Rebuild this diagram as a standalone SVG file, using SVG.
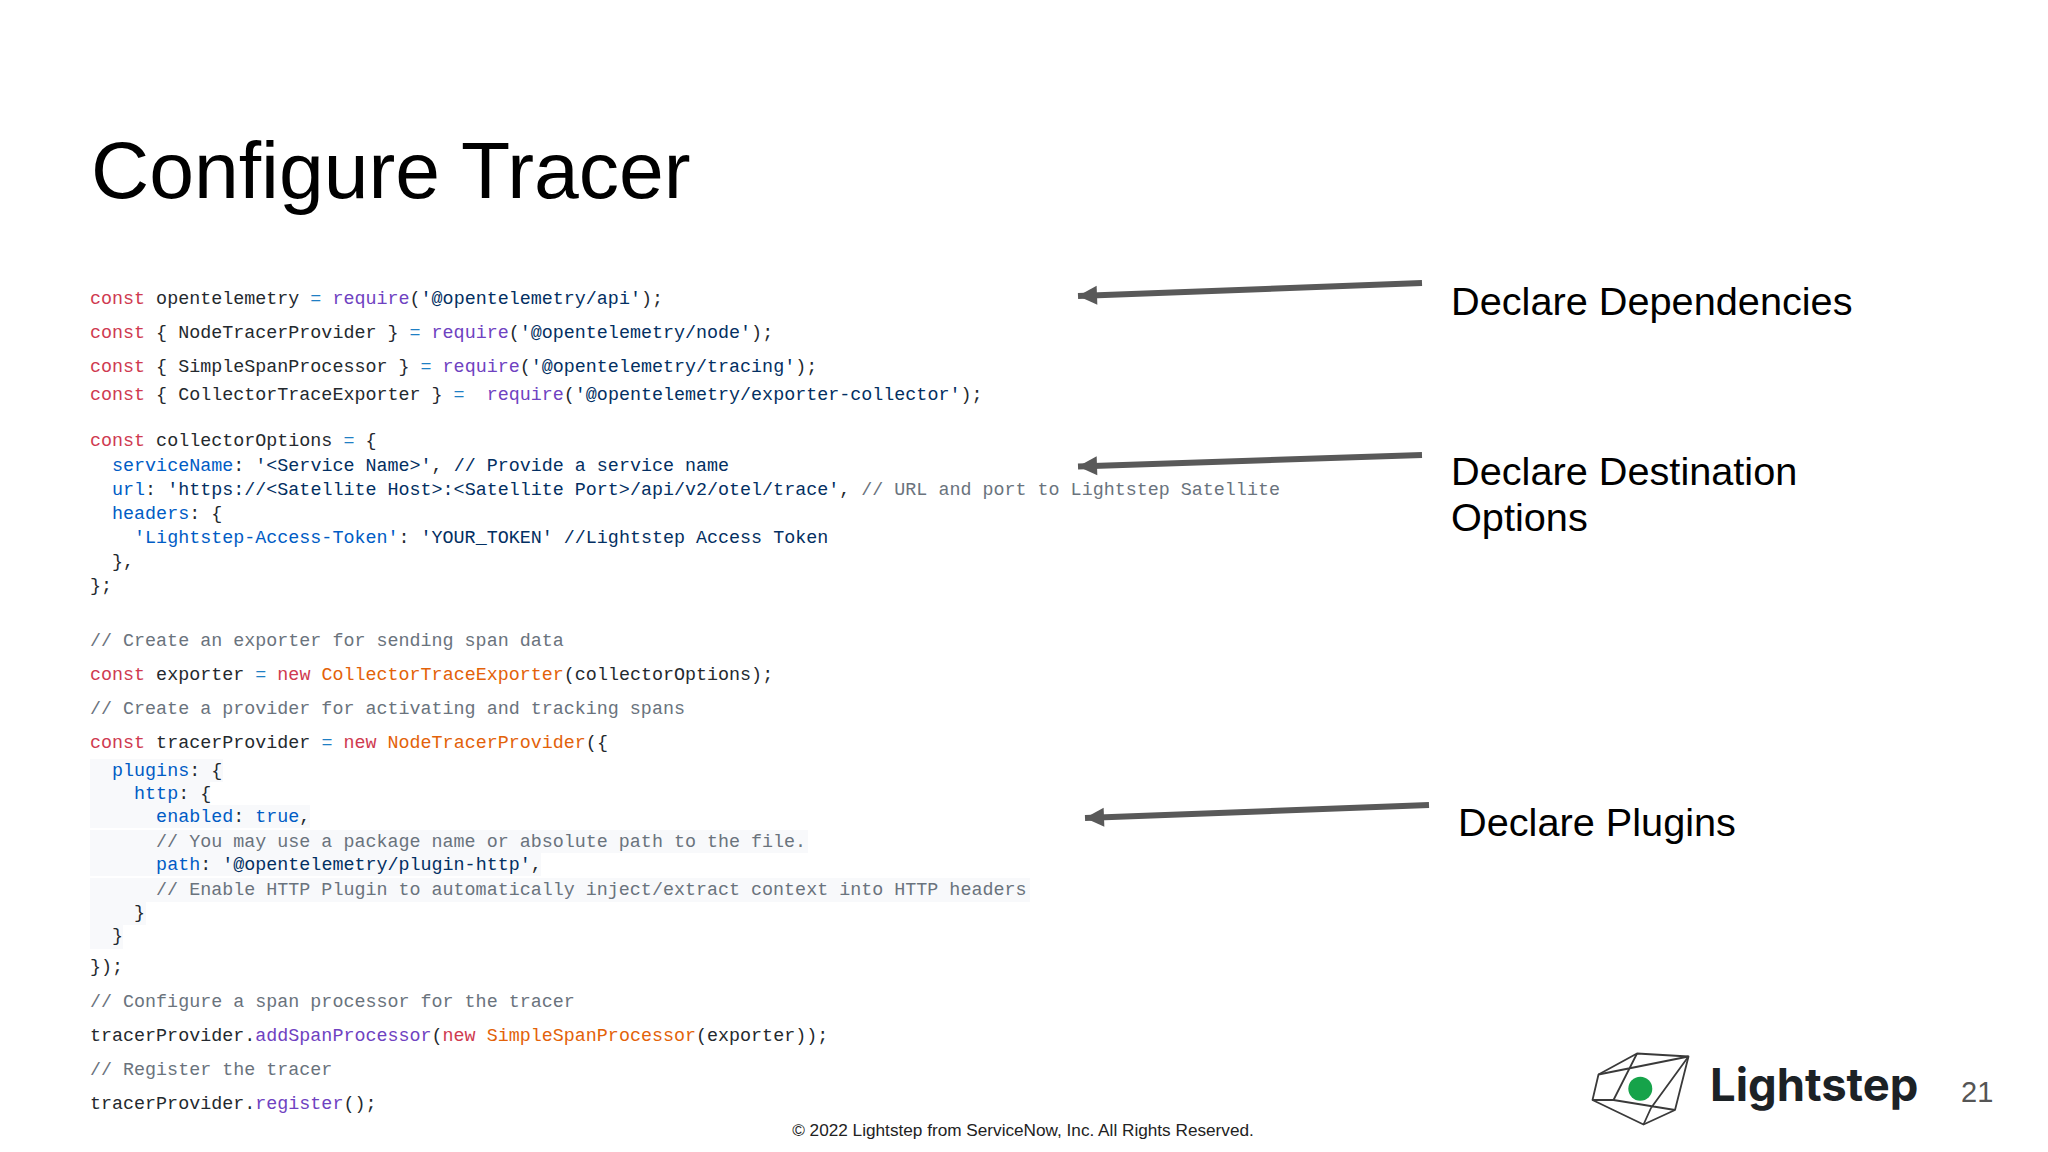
<svg xmlns="http://www.w3.org/2000/svg" width="2048" height="1152" viewBox="0 0 2048 1152">
<defs>
<marker id="ah" markerUnits="userSpaceOnUse" markerWidth="22" markerHeight="22" refX="20" refY="11" orient="auto"><path d="M20 11L1 1.500V20.500Z" fill="#595959"/></marker>
<style>
.c{font-family:"Liberation Mono","DejaVu Sans Mono",monospace;font-size:18.37px;fill:#24292e;white-space:pre}
.k{fill:#cf3a50}.o{fill:#1f7fc4}.f{fill:#6f42c1}.s{fill:#032f62}.p{fill:#005cc5}.g{fill:#6a737d}.t{fill:#e36209}
.l{font-family:"Liberation Sans",Arial,sans-serif;font-size:39.7px;fill:#000}
.b{fill:#f8f9fb}
.a{fill:none;stroke:#595959;stroke-width:6;marker-end:url(#ah)}
.m{fill:none;stroke:#3a3a3a;stroke-width:1.8;stroke-linejoin:round}
</style>
</defs>
<rect width="2048" height="1152" fill="#fff"/>
<text id="title" x="91" y="198" font-family="'Liberation Sans',Arial,sans-serif" font-size="80.500" fill="#000">Configure Tracer</text>
<g id="code-highlight">
<rect class="b" x="90" y="759" width="133" height="23"/>
<rect class="b" x="90" y="782" width="120" height="23"/>
<rect class="b" x="90" y="805" width="220" height="23"/>
<rect class="b" x="90" y="830" width="718" height="23"/>
<rect class="b" x="90" y="853" width="451" height="23"/>
<rect class="b" x="90" y="878" width="940" height="24"/>
<rect class="b" x="90" y="902" width="56" height="23"/>
<rect class="b" x="90" y="925" width="33" height="24"/>
</g>
<g id="code">
<text class="c" x="90" y="304"><tspan class="k">const</tspan> opentelemetry <tspan class="o">=</tspan> <tspan class="f">require</tspan>(<tspan class="s">'@opentelemetry/api'</tspan>);</text>
<text class="c" x="90" y="338"><tspan class="k">const</tspan> { NodeTracerProvider } <tspan class="o">=</tspan> <tspan class="f">require</tspan>(<tspan class="s">'@opentelemetry/node'</tspan>);</text>
<text class="c" x="90" y="372"><tspan class="k">const</tspan> { SimpleSpanProcessor } <tspan class="o">=</tspan> <tspan class="f">require</tspan>(<tspan class="s">'@opentelemetry/tracing'</tspan>);</text>
<text class="c" x="90" y="400"><tspan class="k">const</tspan> { CollectorTraceExporter } <tspan class="o">=</tspan>  <tspan class="f">require</tspan>(<tspan class="s">'@opentelemetry/exporter-collector'</tspan>);</text>
<text class="c" x="90" y="446"><tspan class="k">const</tspan> collectorOptions <tspan class="o">=</tspan> {</text>
<text class="c" x="90" y="471">  <tspan class="p">serviceName</tspan>: <tspan class="s">'&lt;Service Name&gt;'</tspan>, <tspan class="s">// Provide a service name</tspan></text>
<text class="c" x="90" y="495">  <tspan class="p">url</tspan>: <tspan class="s">'https://&lt;Satellite Host&gt;:&lt;Satellite Port&gt;/api/v2/otel/trace'</tspan>, <tspan class="g">// URL and port to Lightstep Satellite</tspan></text>
<text class="c" x="90" y="519">  <tspan class="p">headers</tspan>: {</text>
<text class="c" x="90" y="543">    <tspan class="p">'Lightstep-Access-Token'</tspan>: <tspan class="s">'YOUR_TOKEN'</tspan> <tspan class="s">//Lightstep Access Token</tspan></text>
<text class="c" x="90" y="567">  },</text>
<text class="c" x="90" y="591">};</text>
<text class="c g" x="90" y="646">// Create an exporter for sending span data</text>
<text class="c" x="90" y="680"><tspan class="k">const</tspan> exporter <tspan class="o">=</tspan> <tspan class="k">new</tspan> <tspan class="t">CollectorTraceExporter</tspan>(collectorOptions);</text>
<text class="c g" x="90" y="714">// Create a provider for activating and tracking spans</text>
<text class="c" x="90" y="748"><tspan class="k">const</tspan> tracerProvider <tspan class="o">=</tspan> <tspan class="k">new</tspan> <tspan class="t">NodeTracerProvider</tspan>({</text>
<text class="c" x="90" y="776">  <tspan class="p">plugins</tspan>: {</text>
<text class="c" x="90" y="799">    <tspan class="p">http</tspan>: {</text>
<text class="c" x="90" y="822">      <tspan class="p">enabled</tspan>: <tspan class="p">true</tspan>,</text>
<text class="c g" x="90" y="847">      // You may use a package name or absolute path to the file.</text>
<text class="c" x="90" y="870">      <tspan class="p">path</tspan>: <tspan class="s">'@opentelemetry/plugin-http'</tspan>,</text>
<text class="c g" x="90" y="895">      // Enable HTTP Plugin to automatically inject/extract context into HTTP headers</text>
<text class="c" x="90" y="918">    }</text>
<text class="c" x="90" y="941">  }</text>
<text class="c" x="90" y="972">});</text>
<text class="c g" x="90" y="1007">// Configure a span processor for the tracer</text>
<text class="c" x="90" y="1041">tracerProvider.<tspan class="f">addSpanProcessor</tspan>(<tspan class="k">new</tspan> <tspan class="t">SimpleSpanProcessor</tspan>(exporter));</text>
<text class="c g" x="90" y="1075">// Register the tracer</text>
<text class="c" x="90" y="1109">tracerProvider.<tspan class="f">register</tspan>();</text>
</g>
<g id="connectors">
<path class="a" d="M1422 283L1078 296"/>
<path class="a" d="M1422 455L1078 466.500"/>
<path class="a" d="M1429 805L1085 818"/>
</g>
<g id="label-dependencies"><text class="l" x="1451" y="315">Declare Dependencies</text></g>
<g id="label-destination"><text class="l" x="1451" y="485">Declare Destination</text><text class="l" x="1451" y="531">Options</text></g>
<g id="label-plugins"><text class="l" x="1458" y="836">Declare Plugins</text></g>
<g id="logo">
<path class="m" d="M1637 1053.500L1688.500 1056.500L1675 1110L1643.500 1124.500L1592.500 1100L1598.500 1074.500Z"/>
<path class="m" d="M1598.500 1074.500L1688.500 1056.500M1637 1053.500L1613.500 1100L1592.500 1100M1613.500 1100L1675 1110M1688.500 1056.500L1651 1108L1643.500 1124.500"/>
<circle cx="1640.300" cy="1088.700" r="12" fill="#16a34a"/>
<text x="1710" y="1101" font-family="Inter,Roboto,sans-serif" font-weight="700" font-size="45.400" fill="#1c2226">Lightstep</text>
</g>
<text id="page" x="1961" y="1102" font-family="'Liberation Sans',Arial,sans-serif" font-size="29" fill="#555">21</text>
<text id="footer" x="1023" y="1136" text-anchor="middle" font-family="'Liberation Sans',Arial,sans-serif" font-size="17.200" fill="#222">© 2022 Lightstep from ServiceNow, Inc. All Rights Reserved.</text>
</svg>
